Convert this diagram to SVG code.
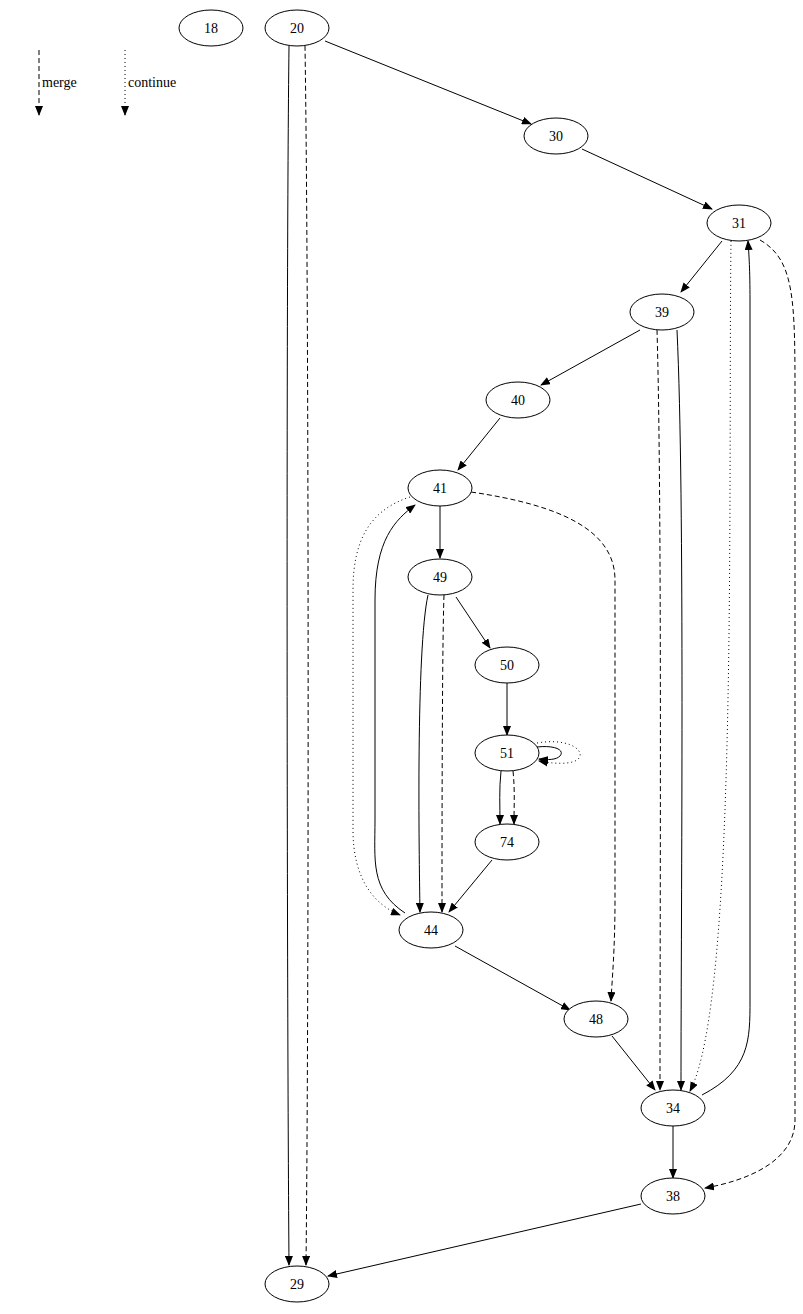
<svg xmlns="http://www.w3.org/2000/svg" width="803" height="1314" viewBox="0 0 803 1314">
<defs>
<marker id="a" markerWidth="10" markerHeight="8" refX="9" refY="4" orient="auto" markerUnits="userSpaceOnUse"><path d="M0,0L10,4L0,8z" fill="#000"/></marker>
<style>
ellipse{fill:#fff;stroke:#000;stroke-width:1}
text{font-family:"Liberation Serif",serif;font-size:14px;text-anchor:middle}
.e{fill:none;stroke:#000;stroke-width:1;marker-end:url(#a)}
.d{stroke-dasharray:5,3}
.o{stroke-dasharray:1,3}
</style>
</defs>
<rect width="803" height="1314" fill="#fff"/>
<g id="legend">
<path class="e d" d="M39,50V115"/><text x="42" y="87" style="text-anchor:start">merge</text>
<path class="e o" d="M125,50V115"/><text x="128" y="87" style="text-anchor:start">continue</text>
</g>
<g id="connectors">
<path class="e" d="M289,46C286,300 287,1000 289,1265"/>
<path class="e d" d="M305,46C309,300 309,1000 306,1265"/>
<path class="e" d="M325,41L531,124"/>
<path class="e" d="M582,149L712,209"/>
<path class="e" d="M722,241L681,292"/>
<path class="e o" d="M731,241C728,500 738,1000 690,1091"/>
<path class="e d" d="M760,240C795,260 795,300 795,400V1120C795,1160 750,1180 705,1188"/>
<path class="e" d="M640,330L541,385"/>
<path class="e d" d="M657,330C662,500 660,900 660,1090"/>
<path class="e" d="M677,330C685,500 681,900 681,1090"/>
<path class="e" d="M500,418L458,470"/>
<path class="e" d="M440,506V558"/>
<path class="e d" d="M471,492C560,505 615,530 615,580V900C615,950 612,980 611,1001"/>
<path class="e" d="M405,913C370,890 375,860 375,820V600C375,540 395,520 415,505"/>
<path class="e o" d="M410,497C370,510 353,540 353,590V830C353,880 375,905 400,915"/>
<path class="e" d="M428,595C416,650 419,850 420,912"/>
<path class="e d" d="M444,595C442,650 442,850 442,912"/>
<path class="e" d="M456,597L490,648"/>
<path class="e" d="M507,683V735"/>
<path class="e" d="M537,747C555,745 565,750 560,756C556,760 548,760 539,759"/>
<path class="e o" d="M537,743C565,738 582,748 580,756C578,764 560,765 539,761"/>
<path class="e" d="M501,771C499,790 500,805 500,824"/>
<path class="e d" d="M513,771C515,790 514,805 514,824"/>
<path class="e" d="M492,860L449,912"/>
<path class="e" d="M455,946L570,1010"/>
<path class="e" d="M612,1036L655,1090"/>
<path class="e" d="M702,1095C750,1070 750,1040 750,1000V300C750,270 749,255 748,241"/>
<path class="e" d="M673,1126V1178"/>
<path class="e" d="M641,1204L328,1276"/>
</g>
<g id="n18"><ellipse cx="211" cy="28" rx="32" ry="18"/><text x="211" y="33">18</text></g>
<g id="n20"><ellipse cx="297" cy="28" rx="32" ry="18"/><text x="297" y="33">20</text></g>
<g id="n30"><ellipse cx="556" cy="136" rx="32" ry="18"/><text x="556" y="141">30</text></g>
<g id="n31"><ellipse cx="739" cy="223" rx="32" ry="18"/><text x="739" y="228">31</text></g>
<g id="n39"><ellipse cx="662" cy="312" rx="32" ry="18"/><text x="662" y="317">39</text></g>
<g id="n40"><ellipse cx="518" cy="400" rx="32" ry="18"/><text x="518" y="405">40</text></g>
<g id="n41"><ellipse cx="440" cy="488" rx="32" ry="18"/><text x="440" y="493">41</text></g>
<g id="n49"><ellipse cx="440" cy="577" rx="32" ry="18"/><text x="440" y="582">49</text></g>
<g id="n50"><ellipse cx="507" cy="665" rx="32" ry="18"/><text x="507" y="670">50</text></g>
<g id="n51"><ellipse cx="507" cy="753" rx="32" ry="18"/><text x="507" y="758">51</text></g>
<g id="n74"><ellipse cx="507" cy="842" rx="32" ry="18"/><text x="507" y="847">74</text></g>
<g id="n44"><ellipse cx="431" cy="930" rx="32" ry="18"/><text x="431" y="935">44</text></g>
<g id="n48"><ellipse cx="596" cy="1019" rx="32" ry="18"/><text x="596" y="1024">48</text></g>
<g id="n34"><ellipse cx="673" cy="1108" rx="32" ry="18"/><text x="673" y="1113">34</text></g>
<g id="n38"><ellipse cx="673" cy="1196" rx="32" ry="18"/><text x="673" y="1201">38</text></g>
<g id="n29"><ellipse cx="297" cy="1284" rx="32" ry="18"/><text x="297" y="1289">29</text></g>
</svg>
